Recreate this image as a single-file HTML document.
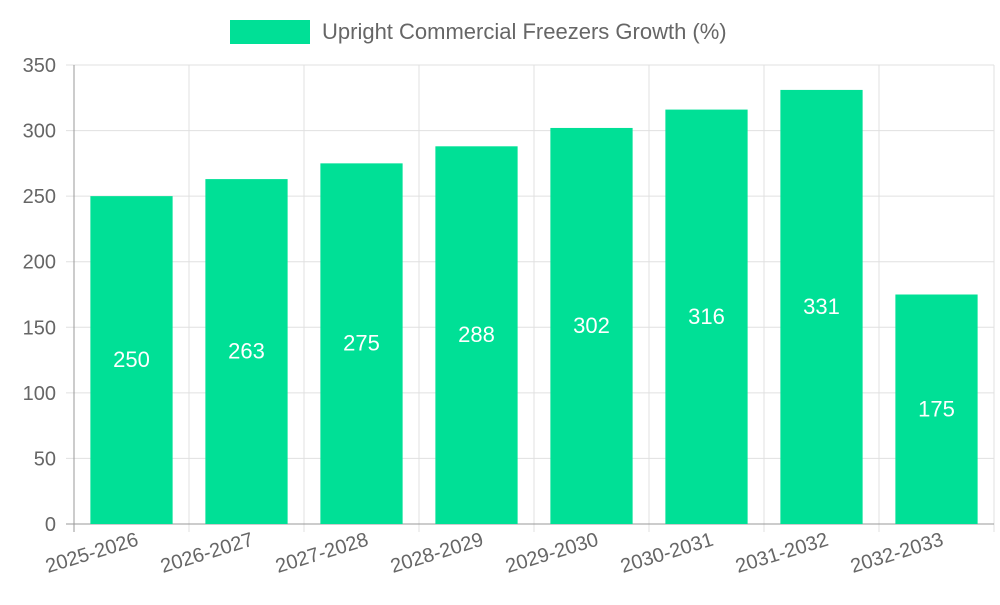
<!DOCTYPE html>
<html><head><meta charset="utf-8"><style>body{margin:0;background:#fff}svg{font-family:"Liberation Sans",sans-serif}</style></head>
<body>
<svg id="c" width="1000" height="600"></svg>
<script>
const categories=["2025-2026","2026-2027","2027-2028","2028-2029","2029-2030","2030-2031","2031-2032","2032-2033"];
const values=[250,263,275,288,302,316,331,175];
const yTicks=[0,50,100,150,200,250,300,350];
const svg=document.getElementById('c');const NS='http://www.w3.org/2000/svg';
const L=74,R=994,T=65,B=524,yMax=350;
const y=v=>B-(v/yMax)*(B-T);
const bw=(R-L)/categories.length;
const x=i=>L+i*bw;
function el(t,a,p){const e=document.createElementNS(NS,t);for(const k in a)e.setAttribute(k,a[k]);(p||svg).appendChild(e);return e;}
const grid=el('g',{});
yTicks.forEach(t=>{el('line',{x1:66,x2:R,y1:y(t),y2:y(t),stroke:'#e0e0e0'},grid);
const tx=el('text',{x:56,y:y(t)+7,'text-anchor':'end','font-size':20,fill:'#666'});tx.textContent=t;
});
for(let i=0;i<=categories.length;i++){el('line',{x1:x(i),x2:x(i),y1:T,y2:532,stroke:'#e0e0e0'},grid);}
el('line',{x1:L,x2:L,y1:T,y2:532,stroke:'#999'});
el('line',{x1:66,x2:R,y1:B,y2:B,stroke:'#999'});
categories.forEach((c,i)=>{const cx=x(i)+bw/2,w=bw*0.715;
const r=el('rect',{x:cx-w/2,y:y(values[i]),width:w,height:B-y(values[i]),fill:'#00e096'});

const v=el('text',{x:cx,y:(y(values[i])+B)/2+7,'text-anchor':'middle','font-size':22,fill:'#fff'});v.textContent=values[i];

const tl=el('text',{x:cx+8,y:545,'text-anchor':'end','font-size':20,fill:'#666',transform:`rotate(-17 ${cx+8} 545)`});tl.textContent=c;
});
const lg=el('g',{});
el('rect',{x:230,y:20,width:80,height:24,fill:'#00e096'},lg);
const lt=el('text',{x:322,y:39,'font-size':22,fill:'#666'},lg);lt.textContent='Upright Commercial Freezers Growth (%)';
</script>
</body></html>
